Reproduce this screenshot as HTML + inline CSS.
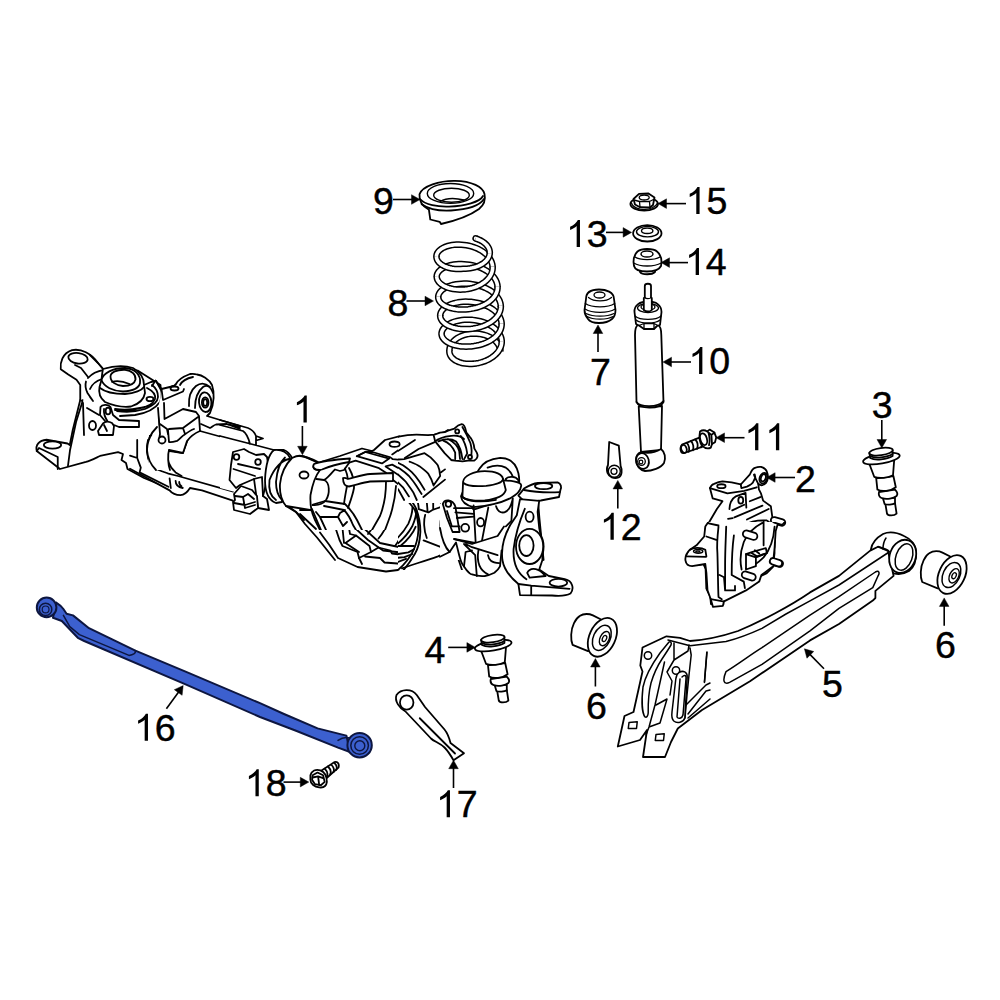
<!DOCTYPE html>
<html><head><meta charset="utf-8"><style>
html,body{margin:0;padding:0;background:#fff;width:1000px;height:1000px;overflow:hidden}
svg{position:absolute;left:0;top:0;display:block}
</style></head><body>
<svg width="1000" height="1000" viewBox="0 0 1000 1000">
<rect width="1000" height="1000" fill="#fff"/>
<g fill="#fff" stroke="#000" stroke-width="1.8" stroke-linejoin="round" stroke-linecap="round">
<g id="axA" transform="translate(30 340) scale(0.15)" stroke-width="1.8">
<path vector-effect="non-scaling-stroke" d="M205,195 C200,150 215,90 280,68 C340,55 410,90 450,150 L490,195 L560,185 L720,205 L870,300 C880,420 860,460 860,460 L870,620 L800,640 C780,700 790,830 850,900 L930,990 L760,920 L650,860 L640,820 L610,800 L620,760 L587,747 L467,773 C430,790 400,805 373,813 L200,860 L45,740 C35,700 60,670 110,665 L250,690 L265,700 L285,600 L310,500 L335,400 L335,300 L310,265 L255,230 Z"/>
<path vector-effect="non-scaling-stroke" fill="none" d="M45,740 L60,720 L185,780 L185,860 M253,840 L267,733 L307,547 L353,400 M335,400 L370,420"/>
<ellipse vector-effect="non-scaling-stroke" cx="150" cy="700" rx="58" ry="24"/>
<ellipse vector-effect="non-scaling-stroke" cx="320" cy="122" rx="65" ry="35" transform="rotate(8 320 122)"/>
<path vector-effect="non-scaling-stroke" fill="none" d="M800,640 C790,600 830,570 870,580 L880,650 M870,620 L920,600 L1000,590 M880,660 C900,640 920,640 930,680 M940,730 L1000,720 M880,330 L900,420 L1000,380 M900,420 L900,520 L1000,480"/>
<circle vector-effect="non-scaling-stroke" cx="880" cy="665" r="22"/>
<path vector-effect="non-scaling-stroke" fill="none" d="M820,275 L840,290 L860,320 M950,320 C960,310 990,310 1000,320"/>
</g>

<g id="axK" transform="translate(75 355) scale(0.1)">
<path stroke="none" d="M130,220 L200,170 L280,140 C380,110 500,105 580,130 C650,170 690,230 690,300 L760,270 L810,260 L860,350 L880,480 L900,640 L850,800 L90,800 L80,480 L110,260 Z"/>
<path vector-effect="non-scaling-stroke" fill="none" d="M150,0 L230,80 L280,140 M0,100 L60,130 L130,220"/>
<path vector-effect="non-scaling-stroke" fill="none" d="M130,230 C160,195 220,160 290,148 M110,265 C100,300 110,350 125,380 L180,460 L150,420 M150,340 C170,290 210,260 270,240"/>
<path vector-effect="non-scaling-stroke" fill="none" d="M690,300 L760,270 L810,258 L860,350 M770,300 C810,330 830,380 830,420 C825,470 790,500 700,540 C620,565 520,575 420,560 M720,330 C780,360 810,400 800,440 C780,490 720,520 650,530 C580,545 480,550 400,540 M400,550 L560,550 L700,520 M450,610 L600,600 C700,585 800,540 850,470 C870,420 870,380 860,350"/>
<ellipse vector-effect="non-scaling-stroke" cx="750" cy="440" rx="35" ry="22"/>
<path vector-effect="non-scaling-stroke" d="M280,140 C380,110 500,105 580,130 C650,170 690,230 690,300 L700,380 C690,440 640,490 560,515 C480,525 380,505 300,470 C250,430 235,370 245,320 L265,250 C270,200 275,160 280,140 Z"/>
<path vector-effect="non-scaling-stroke" d="M265,250 C280,180 380,130 500,130 C600,135 660,200 650,280 C640,330 570,360 480,365 C380,360 290,320 265,250 Z"/>
<path vector-effect="non-scaling-stroke" d="M355,215 C355,170 420,145 500,148 C570,152 610,200 605,245 C595,290 540,310 480,310 C410,305 355,270 355,215 Z"/>
<path vector-effect="non-scaling-stroke" fill="none" d="M370,268 C420,255 480,262 545,290 M250,330 C300,370 400,390 500,390 C600,385 670,350 690,320"/>
<path vector-effect="non-scaling-stroke" fill="none" d="M80,480 L90,800 M120,530 L240,600"/>
<ellipse vector-effect="non-scaling-stroke" cx="175" cy="705" rx="35" ry="45"/>
<path vector-effect="non-scaling-stroke" d="M255,520 C270,495 330,490 355,520 L380,600 L440,650 L640,660 L640,720 L440,720 L390,700 L300,660 L250,600 Z"/>
<ellipse vector-effect="non-scaling-stroke" cx="330" cy="560" rx="24" ry="34"/>
<path vector-effect="non-scaling-stroke" fill="none" d="M290,540 C285,580 295,620 330,670"/>
<path vector-effect="non-scaling-stroke" d="M230,760 L280,685 C300,665 340,665 370,680 L390,710 L380,800 L240,800 Z"/>
<path vector-effect="non-scaling-stroke" fill="none" d="M290,700 L320,760 M840,530 L850,800 M880,480 L900,640 L1000,580 M880,440 L1000,400"/>
<ellipse vector-effect="non-scaling-stroke" cx="990" cy="330" rx="30" ry="20"/>
</g>

<g id="axJ" transform="translate(130 440) scale(0.12)">
<path stroke="none" d="M60,0 L60,150 L90,230 L80,270 L330,420 L360,450 L420,460 L480,430 L500,400 L600,420 L870,510 L1000,400 L1000,0 Z"/>
<path vector-effect="non-scaling-stroke" fill="none" d="M0,240 L330,420 C350,445 380,460 420,460 C450,458 475,440 500,400 L600,420 L870,510"/>
<path vector-effect="non-scaling-stroke" fill="none" d="M0,130 L60,150 L90,230 L80,270 L320,390 M60,0 L60,150"/>
<path vector-effect="non-scaling-stroke" fill="none" d="M150,0 C135,60 140,140 170,200 C200,240 240,250 320,280 L400,300 L860,430"/>
<path vector-effect="non-scaling-stroke" fill="none" d="M320,90 C305,140 315,210 380,270 L430,300 M320,90 L440,110 L480,0"/>
<path vector-effect="non-scaling-stroke" fill="none" d="M330,320 L340,400 M380,340 C380,370 400,395 440,400 M410,350 C410,370 420,380 430,385"/>
</g>

<g id="axH" transform="translate(140 370) scale(0.1)">
<path stroke="none" d="M215,190 L340,160 L360,140 C380,100 420,70 500,40 L570,45 C620,50 690,90 720,150 C745,220 745,330 700,430 L670,460 L1000,560 L1000,740 L600,610 L540,630 L470,710 L430,830 L290,800 L280,1000 L110,1000 C60,900 70,700 170,570 L200,540 L180,380 L210,250 Z"/>
<path vector-effect="non-scaling-stroke" fill="none" d="M120,160 L155,105 L215,190 L340,160 L360,140 C380,100 420,70 500,40 C540,35 570,45 570,45 C620,50 690,90 720,150 C745,220 745,330 700,430 L670,460 L1000,560"/>
<path vector-effect="non-scaling-stroke" fill="none" d="M215,190 L230,300 L430,215 L440,190 M400,150 C420,110 460,85 530,70 M490,360 C485,280 510,200 560,160 C600,130 650,125 700,170 M550,380 C550,290 580,210 630,170 C660,150 700,150 730,230"/>
<ellipse vector-effect="non-scaling-stroke" cx="345" cy="185" rx="40" ry="20"/>
<ellipse vector-effect="non-scaling-stroke" cx="652" cy="322" rx="62" ry="98" transform="rotate(-5 652 322)"/>
<ellipse vector-effect="non-scaling-stroke" cx="652" cy="325" rx="33" ry="52"/>
<ellipse vector-effect="non-scaling-stroke" cx="652" cy="325" rx="20" ry="34"/>
<path vector-effect="non-scaling-stroke" fill="none" d="M610,540 L700,580 C720,570 740,550 760,545 L870,540 L1000,590 M880,545 L1000,570 M600,610 L1000,720"/>
<path vector-effect="non-scaling-stroke" fill="none" d="M240,330 L245,490 L430,390 L560,420 L590,460 L600,610 M290,590 L430,580 L580,470 M430,580 L450,640 M280,600 L290,720 C320,725 350,715 370,710 C400,690 420,660 440,650 C480,620 510,600 540,590"/>
<path vector-effect="non-scaling-stroke" fill="none" d="M180,380 L200,640 L190,700 M200,540 L270,590 L280,640"/>
<circle vector-effect="non-scaling-stroke" cx="220" cy="700" r="35"/>
<path vector-effect="non-scaling-stroke" fill="none" d="M170,570 C110,630 70,720 70,800 C75,880 110,950 160,1000 M290,800 C275,850 280,950 300,1000 M290,800 L430,830 L470,710 C500,670 530,640 600,610"/>
</g>

<g id="axI" transform="translate(220 420) scale(0.1)">
<path stroke="none" d="M0,160 L350,250 L540,300 L640,300 L700,340 L720,380 L820,360 L900,390 L1000,440 L1000,920 L900,900 L660,860 L600,810 L490,900 L380,880 L300,940 L140,900 L130,820 L150,720 L0,680 Z"/>
<path vector-effect="non-scaling-stroke" fill="none" d="M0,0 L280,80 C320,95 340,110 360,160 L360,250 M0,50 L230,110 C260,130 280,160 300,240 M360,160 L430,185 L360,205 M0,160 L350,250 L540,300 L640,300 C670,310 700,340 720,380"/>
<path vector-effect="non-scaling-stroke" d="M130,320 L240,290 L290,320 L360,350 L440,340 L470,370 L480,430 L470,600 L430,760 L470,790 L490,900 L380,880 L340,590 L200,650 L160,680 L95,600 L110,450 Z"/>
<circle vector-effect="non-scaling-stroke" cx="165" cy="370" r="28"/>
<circle vector-effect="non-scaling-stroke" cx="380" cy="420" r="28"/>
<path vector-effect="non-scaling-stroke" fill="none" d="M180,440 L400,490 M135,490 L350,560 M340,590 L420,570 L430,760"/>
<path vector-effect="non-scaling-stroke" d="M140,740 L210,660 L320,700 L370,760 L380,880 L300,940 L140,900 L130,820 L150,800 Z"/>
<path vector-effect="non-scaling-stroke" fill="none" d="M150,760 L230,770 L280,740 L340,790 M140,830 L250,850 L350,820 M250,880 L350,850 M230,770 L250,880"/>
<path vector-effect="non-scaling-stroke" d="M540,300 C480,350 455,480 450,600 C450,700 480,800 560,830 L620,820 L700,380 C680,330 620,290 540,300 Z"/>
<path vector-effect="non-scaling-stroke" fill="none" d="M690,390 C620,400 540,480 495,600 C485,680 500,760 560,800 M650,375 C600,420 570,500 560,620 C560,700 580,760 620,800"/>
<path vector-effect="non-scaling-stroke" d="M720,380 C760,360 800,355 820,360 C860,365 900,390 1000,440 L1000,920 L900,900 L660,860 C610,800 595,720 600,640 C610,540 650,450 720,380 Z"/>
<ellipse vector-effect="non-scaling-stroke" cx="840" cy="550" rx="45" ry="35"/>
<path vector-effect="non-scaling-stroke" fill="none" d="M1000,440 C960,440 930,455 935,475 C940,495 970,500 1000,500 M1000,560 C960,620 925,720 920,800 L930,900 M660,860 L760,920 L840,1000"/>
</g>

<clipPath id="clipL"><rect x="290" y="425" width="110" height="105"/></clipPath>
<g clip-path="url(#clipL)">
<g id="axL" transform="translate(300 430) scale(0.1)">
<path stroke="none" d="M140,340 L190,325 L400,260 L620,185 L720,210 L740,200 L850,100 L1000,60 L1000,1000 L200,1000 L150,900 L110,800 L105,650 L125,540 L160,450 L200,400 Z"/>
<path vector-effect="non-scaling-stroke" fill="none" d="M0,260 C60,262 110,285 190,325 L400,260 L620,185 L720,210 L740,200 L850,100 L1000,60"/>
<path vector-effect="non-scaling-stroke" d="M140,340 C180,325 300,300 500,285 L490,320 C400,335 300,360 220,395 L200,400 C140,400 120,370 140,340 Z"/>
<path vector-effect="non-scaling-stroke" fill="none" d="M200,400 C160,450 125,540 105,650 C100,730 110,820 150,900 L200,1000"/>
<path vector-effect="non-scaling-stroke" fill="none" d="M568,262 L652,220 L724,220 L904,274 L928,292 L1000,298 M484,328 L556,307 L790,382 L856,424 L940,508 L1000,556"/>
<path vector-effect="non-scaling-stroke" fill="none" d="M568,262 L652,220 L892,286 L820,334 Z M856,364 L922,346 L1000,390 L1000,460 Z"/>
<path vector-effect="non-scaling-stroke" fill="none" d="M165,490 L240,500 C290,470 320,420 350,395 L400,410 L440,400 L490,330 M240,500 C300,520 300,640 260,700 C230,740 180,755 125,750"/>
<path vector-effect="non-scaling-stroke" fill="none" d="M450,385 C480,460 490,520 470,560 C455,640 445,690 440,740 M490,380 C530,450 545,520 540,580 C525,660 500,720 480,780"/>
<path vector-effect="non-scaling-stroke" d="M430,480 C450,475 470,485 480,490 C560,470 640,445 700,440 L930,430 L930,510 L700,515 C630,525 560,550 490,565 C450,565 430,540 430,480 Z"/>
<path vector-effect="non-scaling-stroke" fill="none" d="M860,520 C860,640 840,760 800,860 L720,1000 M960,560 C950,700 920,820 880,920 L850,1000"/>
<path vector-effect="non-scaling-stroke" fill="none" d="M130,745 L250,710 L450,740 C500,790 540,840 570,900 L620,1000 M240,760 L440,800 C480,840 510,900 530,950 L560,1000 M0,800 L110,800 M0,840 L160,990 M120,790 L210,1000 M160,820 L200,870 L380,870 L400,830 L450,800 M200,870 L260,1000 M380,870 L430,960 L470,920"/>
<ellipse vector-effect="non-scaling-stroke" cx="946" cy="142" rx="51" ry="27"/>
<path vector-effect="non-scaling-stroke" fill="none" d="M922,244 L1000,190"/>
</g></g>

<clipPath id="clipM"><rect x="398" y="425" width="65" height="80"/></clipPath>
<g clip-path="url(#clipM)">
<g id="axM" transform="translate(380 430) scale(0.08)">
<path stroke="none" d="M0,190 L100,120 L250,70 L450,55 L600,65 L660,80 L720,50 L800,30 L850,0 L1000,0 L1000,1000 L0,1000 Z"/>
<path vector-effect="non-scaling-stroke" fill="none" d="M0,190 C40,150 100,120 250,80 C350,55 450,52 600,65 L680,58 C700,50 720,50 800,30 L850,0"/>
<ellipse vector-effect="non-scaling-stroke" cx="182" cy="177" rx="64" ry="34"/>
<path vector-effect="non-scaling-stroke" fill="none" d="M160,305 L437,125 M310,350 L482,237 L677,155 M685,125 L812,275 L900,380 L1000,380"/>
<path vector-effect="non-scaling-stroke" fill="none" d="M167,372 L302,365 L557,290 C590,310 610,325 632,342 C670,380 700,410 722,440 C740,480 750,530 752,575 L677,680 M370,395 C420,415 460,430 497,455 C540,490 580,520 602,545 C630,590 655,640 670,695"/>
<path vector-effect="non-scaling-stroke" fill="none" d="M62,320 L137,342 L167,372 M167,380 C210,400 250,420 287,440 C330,470 370,500 400,530 C440,570 470,610 497,650 L557,747 M77,462 L152,432 C190,450 220,465 250,485 C300,520 330,545 362,575 C400,620 430,660 452,695 L520,800 M92,477 C140,500 180,520 212,545 C260,590 300,620 325,650 C360,700 390,740 415,777 L460,875 M62,530 C110,560 150,585 175,605 C220,650 260,690 287,717 L362,830 M227,740 L302,875"/>
<path vector-effect="non-scaling-stroke" fill="none" d="M62,635 L190,635 M212,665 L182,875 M542,837 L812,620 M760,530 L812,492 M740,140 C820,150 880,180 930,290 L950,360 M800,110 C880,120 950,170 1000,230"/>
</g></g>

<clipPath id="clipN"><rect x="398" y="503" width="75" height="67"/></clipPath>
<g clip-path="url(#clipN)">
<g id="axN" transform="translate(390 490) scale(0.08)">
<path stroke="none" d="M0,0 L1000,0 L1000,1000 L0,1000 Z"/>
<path vector-effect="non-scaling-stroke" fill="none" d="M100,0 C160,70 260,170 310,250 C340,330 355,420 355,500 C350,600 320,700 290,760 C250,840 190,920 100,1000 M165,0 C230,80 300,170 330,240 C360,320 380,420 380,520 C375,640 340,750 310,800 C270,870 220,940 170,1000"/>
<path vector-effect="non-scaling-stroke" fill="none" d="M270,0 C310,40 350,100 360,240 L480,280 L530,250 L640,210 L630,110 L700,80 L760,40 L880,0 M460,150 L470,270 M540,130 L540,240 M460,150 L620,120"/>
<path vector-effect="non-scaling-stroke" fill="none" d="M75,0 C60,100 40,220 0,350 M0,680 C80,620 170,530 230,420 C260,350 280,280 280,220 M70,690 C150,630 230,540 280,450 C310,380 330,300 330,250 M130,700 C200,640 280,560 320,460"/>
<path vector-effect="non-scaling-stroke" fill="none" d="M0,700 L300,700 M0,760 L80,770 L100,800 L230,780 L300,740 M0,810 L50,820 L60,850 L180,840 L280,800 M0,920 L100,900 L200,860"/>
<path vector-effect="non-scaling-stroke" fill="none" d="M420,630 L760,760 L850,850 L900,1000 M150,980 C250,940 400,900 600,830 L760,760"/>
<path vector-effect="non-scaling-stroke" d="M660,110 C690,95 760,100 790,160 L800,300 L860,420 L870,540 L760,510 L650,290 L640,180 Z"/>
<ellipse vector-effect="non-scaling-stroke" cx="730" cy="180" rx="30" ry="40"/>
<path vector-effect="non-scaling-stroke" fill="none" d="M690,150 C680,200 690,260 760,420 L780,440 L860,440 M780,440 L790,500"/>
<path vector-effect="non-scaling-stroke" fill="none" d="M800,190 L1000,190 M810,240 L1000,250 M840,300 L1000,310 M440,310 C420,380 420,500 460,600 M640,350 C620,420 630,560 670,670 M700,420 C700,500 720,600 750,670 M800,620 L880,640 L1000,700 M820,630 L900,770 L840,860 M930,660 L1000,680 M900,0 L900,80 C920,110 960,130 1000,140"/>
<circle vector-effect="non-scaling-stroke" cx="950" cy="470" r="48"/>
</g></g>

<g id="axC" transform="translate(290 410) scale(0.15)">
<path vector-effect="non-scaling-stroke" fill="none" d="M300,1000 L260,950 L180,850 L100,760 L40,680 L0,650"/>
</g>

<g id="axP" transform="translate(440 420) scale(0.14)">
<path stroke="none" d="M20,580 L80,570 L160,550 L240,620 L400,600 L550,530 L580,460 L600,490 L700,450 L840,445 L860,500 L850,550 L720,575 L700,580 L710,700 L740,1000 L0,1000 L0,600 Z"/>
<path vector-effect="non-scaling-stroke" fill="none" d="M700,580 L710,700 L720,800 L740,1000"/>
<!-- C ring behind boss -->
<path vector-effect="non-scaling-stroke" d="M240,640 C200,600 230,420 280,350 C310,300 370,275 430,270 C490,270 540,300 560,380 C575,450 560,500 540,515 C500,550 420,590 330,612 Z"/>
<path vector-effect="non-scaling-stroke" fill="none" d="M340,340 C380,325 430,320 470,340 C510,370 530,420 530,460"/>
<path vector-effect="non-scaling-stroke" d="M470,420 C490,400 540,400 560,430 C565,450 550,465 520,470 L480,470 Z"/>
<!-- flange ring under boss -->
<path vector-effect="non-scaling-stroke" d="M150,545 C170,470 260,430 380,430 C500,430 585,440 580,470 C575,510 550,530 500,560 C440,590 330,620 240,622 C190,610 155,590 150,545 Z"/>
<!-- boss cylinder -->
<path vector-effect="non-scaling-stroke" d="M165,440 C170,400 240,365 320,365 C400,365 445,390 450,420 L470,500 C460,540 400,565 320,575 C250,580 180,570 160,550 Z"/>
<path vector-effect="non-scaling-stroke" fill="none" d="M168,450 C190,470 260,475 330,470 C400,462 445,445 450,425"/>
<path vector-effect="non-scaling-stroke" fill="none" d="M160,550 C200,585 300,590 400,570"/>
<!-- steering arm ear -->
<path vector-effect="non-scaling-stroke" d="M560,540 L600,490 C640,465 680,452 700,450 L840,445 C865,455 870,480 860,500 L850,550 L720,575 L610,590 Z"/>
<ellipse vector-effect="non-scaling-stroke" cx="740" cy="472" rx="62" ry="22"/>
<path vector-effect="non-scaling-stroke" fill="none" d="M600,500 C650,510 750,520 855,515"/>
<!-- knuckle arm -->

<ellipse vector-effect="non-scaling-stroke" cx="640" cy="690" rx="25" ry="35"/>
<ellipse vector-effect="non-scaling-stroke" cx="630" cy="905" rx="110" ry="140"/>
<ellipse vector-effect="non-scaling-stroke" cx="615" cy="905" rx="58" ry="80"/>
<!-- center block -->
<path vector-effect="non-scaling-stroke" fill="none" d="M240,610 L255,880 M345,625 L300,860 M400,615 C410,650 430,665 460,660 C490,650 510,610 520,560 M520,560 L510,720 L460,770 L450,1000 M100,850 L260,880 L500,850 M190,880 L260,1000 M500,850 L520,1000"/>
<ellipse vector-effect="non-scaling-stroke" cx="290" cy="730" rx="25" ry="30"/>
<circle vector-effect="non-scaling-stroke" cx="180" cy="770" r="28"/>
<!-- steering stop -->
<path vector-effect="non-scaling-stroke" d="M20,600 C30,565 90,560 110,620 L130,740 L140,800 L90,800 L50,700 Z"/>
<circle vector-effect="non-scaling-stroke" cx="60" cy="600" r="20"/>
<path vector-effect="non-scaling-stroke" fill="none" d="M50,650 L85,760 L140,760 M100,630 L240,630 M110,660 L240,670 M120,700 L240,690"/>
</g>

<clipPath id="clipE"><path d="M300,530 L398,530 L398,570 L480,570 L480,640 L300,640 Z"/></clipPath>
<g clip-path="url(#clipE)">
<g id="axE" transform="translate(320 480) scale(0.15)">
<path stroke="none" d="M0,170 L0,350 L60,430 L120,520 L250,580 L440,610 L520,600 L560,578 L650,570 L760,540 L860,480 L920,560 L1000,620 L1000,300 L700,100 L600,0 L0,0 Z"/>
<path vector-effect="non-scaling-stroke" fill="none" d="M0,350 L60,430 L120,520 L250,580 L440,610 L520,600 L590,560 C650,490 680,380 660,260 C640,160 590,80 520,20"/>
<path vector-effect="non-scaling-stroke" fill="none" d="M560,578 L650,570 C720,560 800,530 860,480 M690,400 L860,480"/>
<path vector-effect="non-scaling-stroke" fill="none" d="M500,40 C580,120 630,240 640,340 C645,430 610,510 560,560 M480,60 C560,150 600,250 610,340 C615,420 590,490 540,540"/>
<path vector-effect="non-scaling-stroke" fill="none" d="M440,0 C440,120 400,260 320,360 M500,60 C490,200 450,320 390,390 M580,160 C580,290 540,390 500,440 M620,280 C610,370 580,430 540,460"/>
<path vector-effect="non-scaling-stroke" fill="none" d="M0,170 L50,150 L160,160 L180,200 L290,320 L400,420 L540,450 L640,440 M0,200 L140,225 L200,290 L320,400 L420,470 L600,490 M0,240 L90,240 L130,230 L150,290 L190,300 L200,360 L240,370 L330,440 L340,480 L260,520 L250,480 L150,440 L130,400 L100,310 L60,290 L0,280"/>
<path vector-effect="non-scaling-stroke" fill="none" d="M130,230 L90,250 L100,310 M150,290 L110,300 M190,300 L150,320 L160,420 M240,370 L170,420 L260,480 M340,480 L390,450 L470,470 L480,490 L560,500 L610,480 M300,510 L400,520 L430,550 L560,560 M260,520 L280,560"/>
<path vector-effect="non-scaling-stroke" fill="none" d="M170,30 L210,40 L180,160 M200,50 L240,60 L200,170 M0,20 C20,80 20,130 0,160"/>
<path vector-effect="non-scaling-stroke" fill="none" d="M700,100 L760,90 L800,150 L720,210 L700,100 M720,210 L860,180 L1000,170 M900,200 L1000,200 M730,260 C700,300 700,380 720,400"/>
<path vector-effect="non-scaling-stroke" d="M830,140 C840,110 890,110 895,150 L900,200 L920,330 L880,340 L860,280 Z"/>
<ellipse vector-effect="non-scaling-stroke" cx="857" cy="165" rx="16" ry="22"/>
<circle vector-effect="non-scaling-stroke" cx="975" cy="320" r="25"/>
<path vector-effect="non-scaling-stroke" fill="none" d="M900,400 L960,420 L1000,440 M870,500 L900,540 L940,560 L1000,620 M820,260 C790,320 800,420 860,470"/>
</g>

</g>
<g id="axF" transform="translate(440 480) scale(0.16)">
<path stroke="none" d="M60,450 L100,390 L200,400 L360,350 L400,290 L420,300 L385,440 L375,540 L340,580 L280,600 L200,590 L150,540 L120,470 Z"/>
<path vector-effect="non-scaling-stroke" fill="none" d="M0,480 L60,450 L100,390 L120,470 C130,510 140,530 150,540 C170,570 190,590 200,590 C230,600 260,602 280,600 C310,595 330,585 340,580 C360,565 370,550 375,540 L385,440"/>
<path vector-effect="non-scaling-stroke" fill="none" d="M90,370 L200,400 L360,350 L400,290 M160,400 L200,420 L360,470 M150,400 L220,470 L230,600 M150,540 L160,450 L200,440 M240,440 C230,500 240,560 300,590 M300,470 C305,500 320,515 370,520 M0,300 C10,360 30,420 60,450"/>
<path vector-effect="non-scaling-stroke" d="M500,120 L620,130 L610,200 L620,300 L640,400 L640,500 L620,560 L680,600 L780,620 C830,630 840,680 815,710 C790,725 740,725 700,722 L500,720 L490,650 C440,610 400,560 390,500 C380,420 400,350 440,280 L480,220 Z"/>
<path vector-effect="non-scaling-stroke" fill="none" d="M530,180 C500,250 470,350 460,430 C455,520 480,580 540,620 M490,650 L570,660 L810,680 M570,660 L570,720 M545,580 C560,550 600,545 640,580 L660,600 L560,610 Z"/>
<ellipse vector-effect="non-scaling-stroke" cx="560" cy="415" rx="85" ry="110"/>
<ellipse vector-effect="non-scaling-stroke" cx="540" cy="410" rx="45" ry="65"/>
<ellipse vector-effect="non-scaling-stroke" cx="560" cy="230" rx="25" ry="32"/>
<ellipse vector-effect="non-scaling-stroke" cx="740" cy="642" rx="55" ry="24"/>
</g>

<g id="axG" transform="translate(400 415) scale(0.08)">
<path vector-effect="non-scaling-stroke" d="M420,250 L500,220 L560,215 L600,195 L680,170 C700,150 720,125 770,115 C800,115 815,140 830,220 L870,270 C900,300 920,330 930,420 L960,470 C975,500 975,540 930,570 L850,570 L780,580 L700,570 L640,560 L560,480 L440,330 Z"/>
<path vector-effect="non-scaling-stroke" fill="none" d="M780,150 C810,200 840,250 880,350 C900,420 905,480 880,545 M760,262 C800,320 830,400 840,480 L800,555"/>
<path vector-effect="non-scaling-stroke" fill="none" d="M480,330 C560,295 640,290 700,330 C740,380 770,460 780,550 M540,320 C600,340 660,400 690,470 L690,550 M600,300 C660,330 720,380 740,450 L750,550 M440,330 C470,300 550,270 640,260 C720,250 780,280 800,300"/>
<circle vector-effect="non-scaling-stroke" cx="715" cy="205" r="25"/>
<circle vector-effect="non-scaling-stroke" cx="875" cy="525" r="25"/>
</g>

<g id="p2" transform="translate(680 460) scale(0.155)">
<path vector-effect="non-scaling-stroke" d="M193,181 C200,165 215,155 220,154 C240,145 255,140 274,138 L333,145 L392,158 L450,95 C460,70 475,52 486,50 C500,44 512,43 523,45 C540,50 555,60 559,72 C566,88 568,100 568,113 C566,130 560,142 554,149 C545,158 535,162 523,163 L505,154 L509,190 L523,217 L536,262 L586,298 L600,400 L610,600 L600,690 L560,730 L500,760 L460,810 L360,850 L280,900 L270,940 L200,930 L195,880 L170,830 L165,700 L150,670 C120,680 60,680 45,650 C35,620 55,585 100,565 L150,560 L160,530 L165,440 L238,316 L274,266 L211,248 Z"/>
<path vector-effect="non-scaling-stroke" fill="none" d="M193,181 L306,215 L414,199 L495,176 M392,158 L396,181 L432,172 C455,160 470,150 473,140 L486,113 L482,93 M477,95 C482,110 488,120 491,126 L505,154"/>
<ellipse vector-effect="non-scaling-stroke" cx="267" cy="169" rx="27" ry="12.6"/>
<ellipse vector-effect="non-scaling-stroke" cx="538" cy="117" rx="24" ry="35" transform="rotate(20 538 117)"/>
<ellipse vector-effect="non-scaling-stroke" cx="538" cy="115" rx="15" ry="24" transform="rotate(20 538 115)"/>
<ellipse vector-effect="non-scaling-stroke" cx="392" cy="260" rx="16" ry="22"/>
<ellipse vector-effect="non-scaling-stroke" cx="115" cy="590" rx="40" ry="16"/>
<path vector-effect="non-scaling-stroke" fill="none" d="M45,640 C70,660 130,660 160,640 L165,600 M160,640 L165,700"/>
<path vector-effect="non-scaling-stroke" fill="none" d="M423,212 L428,307 M337,325 L414,289 M450,266 L518,239 M351,370 L532,294 M432,384 L572,316 M319,316 C320,290 328,271 328,271 C340,250 350,240 360,235 L423,212"/>
<path vector-effect="non-scaling-stroke" fill="none" d="M310,380 L340,375 M260,470 C245,560 250,700 300,840 M320,420 C300,520 310,680 350,760 L400,770 L450,780 M200,420 L240,430 M170,490 L230,510 M280,760 L300,840 L350,830"/>
<path vector-effect="non-scaling-stroke" fill="none" d="M400,440 C430,400 500,385 560,390 C600,410 615,480 610,560 C600,640 560,700 480,730 L410,730 M440,470 C400,520 390,620 410,700 M540,400 L545,580"/>
<path vector-effect="non-scaling-stroke" d="M430,610 L500,600 L550,580 L560,620 L490,650 L480,690 L430,700 Z"/>
<path vector-effect="non-scaling-stroke" fill="none" d="M430,610 L470,620 L490,650 M470,620 L540,595"/>
<rect vector-effect="non-scaling-stroke" x="405" y="462" width="95" height="45" rx="22" transform="rotate(15 452 485)"/>
<rect vector-effect="non-scaling-stroke" x="585" y="375" width="95" height="42" rx="21" transform="rotate(15 632 396)"/>
<rect vector-effect="non-scaling-stroke" x="590" y="645" width="75" height="40" rx="20" transform="rotate(15 627 665)"/>
<rect vector-effect="non-scaling-stroke" x="405" y="735" width="95" height="42" rx="21" transform="rotate(15 452 756)"/>
<path vector-effect="non-scaling-stroke" fill="none" d="M195,880 L270,890 L280,930"/>
</g>

<clipPath id="clipB2"><rect x="670" y="522" width="130" height="100"/></clipPath>
<g clip-path="url(#clipB2)">
<g id="p2low" transform="translate(680 520) scale(0.11)">
<path stroke="none" d="M270,0 L230,60 L220,150 L150,230 L90,270 L50,350 L60,400 L110,420 L230,400 L240,480 L250,640 L280,720 L300,790 L390,780 L400,740 L600,640 L720,560 L740,500 L860,410 L880,360 L850,350 L860,250 L870,100 L900,0 Z"/>
<path vector-effect="non-scaling-stroke" fill="none" d="M270,0 L230,60 L220,150 L150,230 L90,270 C60,300 45,340 50,370 C55,400 80,420 110,420 L230,400 L240,480 L250,640 L280,720 L300,790 L390,780 L400,740 L600,640 L720,560 L740,500 L860,410"/>
<path vector-effect="non-scaling-stroke" fill="none" d="M90,270 C120,250 190,245 230,270 L240,330 M60,330 L235,335 M280,720 L390,740 L400,740 M860,410 L850,350 L860,250 L870,100 L900,0"/>
<ellipse vector-effect="non-scaling-stroke" cx="165" cy="285" rx="42" ry="17" stroke-width="1.5"/>
<ellipse vector-effect="non-scaling-stroke" cx="162" cy="287" rx="20" ry="6" stroke-width="1.1"/>
<path vector-effect="non-scaling-stroke" fill="none" d="M260,30 L350,50 M240,150 L330,180 M350,60 C340,150 335,250 340,300 C345,450 345,600 350,700 L380,720 M420,60 C415,200 410,300 410,400 L410,640 L500,640 L500,600 M490,140 C475,250 470,400 470,500 L580,560 L590,620 M360,500 L400,520 L410,640"/>
<path vector-effect="non-scaling-stroke" fill="none" d="M560,450 C545,380 550,280 580,200 C610,130 660,70 760,20 M600,440 C650,430 700,400 760,340 C810,280 850,200 860,60 M760,20 L760,230"/>
<path vector-effect="non-scaling-stroke" d="M600,310 L660,290 L780,255 L790,300 L690,340 L690,420 L600,450 Z"/>
<path vector-effect="non-scaling-stroke" fill="none" d="M600,310 L690,340 M650,300 L700,330 L790,300 M680,275 L720,305"/>
<rect vector-effect="non-scaling-stroke" x="570" y="105" width="135" height="65" rx="32" transform="rotate(18 637 137)"/>
<rect vector-effect="non-scaling-stroke" x="560" y="478" width="130" height="62" rx="31" transform="rotate(18 625 509)"/>
<rect vector-effect="non-scaling-stroke" x="815" y="355" width="115" height="58" rx="29" transform="rotate(18 872 384)"/>
<rect vector-effect="non-scaling-stroke" x="835" y="-25" width="115" height="58" rx="29" transform="rotate(18 892 4)"/>
</g></g>

<g id="p3" transform="translate(855 440) scale(0.08)">
<path vector-effect="non-scaling-stroke" d="M380,800 L400,920 C410,950 490,950 520,920 L500,790 Z"/>
<path vector-effect="non-scaling-stroke" d="M350,730 L370,800 C400,815 470,810 500,790 L500,720 Z"/>
<path vector-effect="non-scaling-stroke" d="M300,650 C290,690 300,715 340,728 C400,745 480,730 520,700 C535,680 530,650 500,620 Z"/>
<path vector-effect="non-scaling-stroke" d="M265,480 L280,620 C330,650 450,640 510,590 L480,450 Z"/>
<path vector-effect="non-scaling-stroke" d="M180,300 L240,460 C300,485 420,475 475,440 L490,250 Z"/>
<ellipse vector-effect="non-scaling-stroke" cx="330" cy="232" rx="232" ry="62" transform="rotate(-10 330 232)"/>
<path vector-effect="non-scaling-stroke" d="M180,160 L190,225 C250,260 400,245 470,200 L470,130 Z"/>
<ellipse vector-effect="non-scaling-stroke" cx="325" cy="145" rx="148" ry="45" transform="rotate(-8 325 145)"/>
<path vector-effect="non-scaling-stroke" fill="none" d="M185,200 C250,235 400,220 470,175"/>
</g>
<use href="#p3" transform="translate(-388.2 187)"/>

<g id="p5">
<!-- eye back -->
<path d="M870.9,549.3 C872,543 876,538 883,534 C890,531 898,533 904,536 C911,539 916,545 916,552 C916.5,560 914,567 909,571 C904,574 898,574.5 893.6,573.3 Z"/>
<!-- arm body -->
<path d="M642.5,647.5 L666.5,636.3 L680,637.8 L690,641 C705,640 720,637 738,631 C760,622 790,606 810,592.4 L839,575.9 L870.2,550.6 L878,546.7 L888,551 L893.6,575.9 L875.4,590.9 L875.4,598 L872.8,600.6 L839,624 L810,640.4 L750,681.2 L702,710 L677.8,728.5 L671,742 L665,757 L643,757 L647,730 L640,740 L617.8,746.5 L624.5,716 L633.5,712 L642.5,671.5 L640.3,665.5 Z"/>
<!-- eye front face -->
<ellipse cx="902.7" cy="556.4" rx="13" ry="17" transform="rotate(20 902.7 556.4)"/>
<ellipse cx="904" cy="557" rx="8.1" ry="13.7" transform="rotate(20 904 557)" stroke-width="1.5"/>
<path fill="none" stroke-width="1.5" d="M878,546.7 C883,548 888,549 889.5,552 M886,538 C884,541 883,545 883,549"/>
<!-- top inner line -->
<path fill="none" stroke-width="1.5" d="M668,640 L690,645.8 L726,641.6 C740,638 752,633 762,628.4 L786,614 L810,600.8 L839,585 L888.4,552.5"/>
<!-- long slot -->
<path fill="none" stroke-width="1.5" d="M726,671.6 C740,663 750,655 762,647.6 L810,615.2 L839,596.7 L875.4,572 C879,570 880,573 878,576 L872.8,587.6 L839,608.4 L810,630.8 L762,664.4 L729.6,682.4 C724,685 722,681 726,671.6 Z"/>
<!-- left bracket details -->
<g transform="translate(630 635) scale(0.1)">
<circle vector-effect="non-scaling-stroke" cx="180" cy="205" r="37" stroke-width="1.5"/>
<path vector-effect="non-scaling-stroke" stroke-width="1.5" d="M150,820 C120,780 115,650 130,520 C150,420 200,320 300,180 L390,70 C405,60 420,80 410,100 C380,150 340,210 320,240 C280,300 240,380 210,480 C190,560 180,650 182,780 C180,810 165,830 150,820 Z"/>
<path vector-effect="non-scaling-stroke" fill="none" stroke-width="1.5" d="M345,270 L290,520 L250,700 L190,920 L160,1000 M260,700 L370,640 L300,880 L190,920"/>
<path vector-effect="non-scaling-stroke" fill="none" stroke-width="1.5" d="M440,80 L440,250 L580,160 L590,100 M440,250 L370,370 L420,460 L400,600 M600,130 L612,200 L590,400 L570,600 L550,830"/>
<circle vector-effect="non-scaling-stroke" cx="460" cy="355" r="37" stroke-width="1.5"/>
<path vector-effect="non-scaling-stroke" stroke-width="1.5" d="M490,375 C530,350 575,370 572,420 L548,830 C535,875 470,890 438,860 C418,840 416,800 420,770 L458,440 C462,405 475,385 490,375 Z"/>
<path vector-effect="non-scaling-stroke" fill="none" stroke-width="1.5" d="M520,420 C545,395 565,400 560,440 L530,800 C520,840 480,840 470,820 L500,440"/>
<path vector-effect="non-scaling-stroke" fill="none" stroke-width="1.5" d="M560,700 L760,500 L800,480 M580,790 L760,560 L800,550 M580,830 L800,640 M770,170 L745,470"/>
</g>
<g transform="translate(605 625) scale(0.15)">
<path vector-effect="non-scaling-stroke" fill="none" stroke-width="1.5" d="M160,650 L215,645 L210,690 L155,690 Z M340,730 L395,725 L390,770 L335,770 Z"/>
</g>
<path fill="none" stroke-width="1.5" d="M706.8,652.4 L704.4,682.4"/>
</g>

<g id="p6a">
<path d="M588,651.1 L572.6,644.8 C570.5,640 570.5,630 574,623.1 C576,619 578,617 579.6,616.1 C582,614.5 584,614 586.6,614 C589,614 591,614.5 592.9,615.4 L600.6,619.25 L605,630 L600,650 Z"/>
<ellipse cx="602.4" cy="637.3" rx="13" ry="20.5" transform="rotate(25 602.4 637.3)"/>
<ellipse cx="601.8" cy="637.8" rx="8.4" ry="13.3" transform="rotate(25 601.8 637.8)" stroke-width="1.5"/>
<ellipse cx="604.5" cy="638.6" rx="4.5" ry="7.6" transform="rotate(25 604.5 638.6)" stroke-width="1.4"/>
<ellipse cx="604.5" cy="638.5" rx="2" ry="3.2" transform="rotate(25 604.5 638.5)" stroke-width="1.3"/>
</g>
<use href="#p6a" transform="translate(349.6 -62.8)"/>

<g id="p8" fill="none" stroke-linecap="butt">

<path d="M436.41,256.87 L436.46,255.66 L436.71,254.48 L437.18,253.32 L437.86,252.19 L438.74,251.09 L439.81,250.06 L441.07,249.08 L442.52,248.18 L444.13,247.36 L445.90,246.63 L447.81,246.01 L449.85,245.49 L452.01,245.09 L454.26,244.80 L456.60,244.64 L458.99,244.61 L461.43,244.71 L463.90,244.95 L466.37,245.29 L468.83,245.77 L471.26,246.37 L473.64,247.11 L475.94,247.97 L478.16,248.96 L480.28,250.06 L482.27,251.28 L484.13,252.59 L485.83,254.00 L487.37,255.50 L488.73,257.07 L489.90,258.71 L490.88,260.41 L491.65,262.15 L492.20,263.93 L492.54,265.73 L492.66,267.53" stroke="#000" stroke-width="6.6"/><path d="M436.41,256.87 L436.46,255.66 L436.71,254.48 L437.18,253.32 L437.86,252.19 L438.74,251.09 L439.81,250.06 L441.07,249.08 L442.52,248.18 L444.13,247.36 L445.90,246.63 L447.81,246.01 L449.85,245.49 L452.01,245.09 L454.26,244.80 L456.60,244.64 L458.99,244.61 L461.43,244.71 L463.90,244.95 L466.37,245.29 L468.83,245.77 L471.26,246.37 L473.64,247.11 L475.94,247.97 L478.16,248.96 L480.28,250.06 L482.27,251.28 L484.13,252.59 L485.83,254.00 L487.37,255.50 L488.73,257.07 L489.90,258.71 L490.88,260.41 L491.65,262.15 L492.20,263.93 L492.54,265.73 L492.66,267.53" stroke="#fff" stroke-width="3.6"/>
<path d="M436.71,276.88 L436.77,275.63 L437.07,274.39 L437.60,273.18 L438.35,272.00 L439.32,270.86 L440.51,269.78 L441.90,268.76 L443.48,267.82 L445.25,266.97 L447.18,266.21 L449.27,265.56 L451.50,265.02 L453.85,264.60 L456.30,264.30 L458.83,264.13 L461.43,264.10 L464.08,264.20 L466.75,264.44 L469.42,264.77 L472.08,265.24 L474.70,265.85 L477.26,266.59 L479.74,267.46 L482.13,268.46 L484.40,269.57 L486.54,270.80 L488.52,272.14 L490.35,273.57 L491.99,275.09 L493.43,276.68 L494.68,278.35 L495.71,280.07 L496.52,281.84 L497.10,283.64 L497.45,285.46 L497.56,287.29" stroke="#000" stroke-width="6.6"/><path d="M436.71,276.88 L436.77,275.63 L437.07,274.39 L437.60,273.18 L438.35,272.00 L439.32,270.86 L440.51,269.78 L441.90,268.76 L443.48,267.82 L445.25,266.97 L447.18,266.21 L449.27,265.56 L451.50,265.02 L453.85,264.60 L456.30,264.30 L458.83,264.13 L461.43,264.10 L464.08,264.20 L466.75,264.44 L469.42,264.77 L472.08,265.24 L474.70,265.85 L477.26,266.59 L479.74,267.46 L482.13,268.46 L484.40,269.57 L486.54,270.80 L488.52,272.14 L490.35,273.57 L491.99,275.09 L493.43,276.68 L494.68,278.35 L495.71,280.07 L496.52,281.84 L497.10,283.64 L497.45,285.46 L497.56,287.29" stroke="#fff" stroke-width="3.6"/>
<path d="M438.20,297.37 L438.28,296.08 L438.60,294.77 L439.16,293.49 L439.95,292.24 L440.98,291.04 L442.22,289.89 L443.68,288.81 L445.34,287.80 L447.18,286.89 L449.20,286.07 L451.38,285.36 L453.70,284.76 L456.14,284.28 L458.68,283.92 L461.31,283.70 L464.01,283.61 L466.74,283.66 L469.50,283.85 L472.26,284.18 L474.99,284.65 L477.69,285.26 L480.32,286.01 L482.86,286.88 L485.30,287.88 L487.62,289.01 L489.80,290.24 L491.82,291.59 L493.66,293.03 L495.32,294.56 L496.78,296.17 L498.02,297.85 L499.05,299.59 L499.84,301.37 L500.40,303.19 L500.72,305.03 L500.80,306.88" stroke="#000" stroke-width="6.6"/><path d="M438.20,297.37 L438.28,296.08 L438.60,294.77 L439.16,293.49 L439.95,292.24 L440.98,291.04 L442.22,289.89 L443.68,288.81 L445.34,287.80 L447.18,286.89 L449.20,286.07 L451.38,285.36 L453.70,284.76 L456.14,284.28 L458.68,283.92 L461.31,283.70 L464.01,283.61 L466.74,283.66 L469.50,283.85 L472.26,284.18 L474.99,284.65 L477.69,285.26 L480.32,286.01 L482.86,286.88 L485.30,287.88 L487.62,289.01 L489.80,290.24 L491.82,291.59 L493.66,293.03 L495.32,294.56 L496.78,296.17 L498.02,297.85 L499.05,299.59 L499.84,301.37 L500.40,303.19 L500.72,305.03 L500.80,306.88" stroke="#fff" stroke-width="3.6"/>
<path d="M440.20,315.90 L440.27,314.55 L440.58,313.21 L441.13,311.89 L441.91,310.60 L442.93,309.36 L444.16,308.18 L445.60,307.06 L447.24,306.03 L449.07,305.09 L451.07,304.24 L453.22,303.50 L455.52,302.88 L457.93,302.38 L460.45,302.01 L463.05,301.77 L465.71,301.67 L468.41,301.70 L471.12,301.88 L473.84,302.20 L476.54,302.66 L479.19,303.26 L481.77,303.99 L484.27,304.85 L486.66,305.85 L488.93,306.96 L491.06,308.19 L493.03,309.53 L494.83,310.96 L496.44,312.48 L497.85,314.08 L499.06,315.75 L500.04,317.48 L500.79,319.25 L501.31,321.05 L501.59,322.87 L501.64,324.71" stroke="#000" stroke-width="6.6"/><path d="M440.20,315.90 L440.27,314.55 L440.58,313.21 L441.13,311.89 L441.91,310.60 L442.93,309.36 L444.16,308.18 L445.60,307.06 L447.24,306.03 L449.07,305.09 L451.07,304.24 L453.22,303.50 L455.52,302.88 L457.93,302.38 L460.45,302.01 L463.05,301.77 L465.71,301.67 L468.41,301.70 L471.12,301.88 L473.84,302.20 L476.54,302.66 L479.19,303.26 L481.77,303.99 L484.27,304.85 L486.66,305.85 L488.93,306.96 L491.06,308.19 L493.03,309.53 L494.83,310.96 L496.44,312.48 L497.85,314.08 L499.06,315.75 L500.04,317.48 L500.79,319.25 L501.31,321.05 L501.59,322.87 L501.64,324.71" stroke="#fff" stroke-width="3.6"/>
<path d="M441.50,333.88 L441.62,332.55 L442.00,331.22 L442.60,329.91 L443.44,328.63 L444.49,327.39 L445.75,326.22 L447.22,325.11 L448.87,324.08 L450.71,323.14 L452.70,322.30 L454.84,321.56 L457.10,320.94 L459.48,320.44 L461.95,320.06 L464.50,319.82 L467.10,319.71 L469.73,319.74 L472.38,319.91 L475.01,320.21 L477.62,320.66 L480.18,321.25 L482.68,321.96 L485.09,322.81 L487.39,323.79 L489.57,324.89 L491.61,326.09 L493.50,327.41 L495.22,328.82 L496.76,330.32 L498.11,331.90 L499.25,333.54 L500.19,335.24 L500.91,336.98 L501.41,338.76 L501.69,340.56 L501.73,342.37" stroke="#000" stroke-width="6.6"/><path d="M441.50,333.88 L441.62,332.55 L442.00,331.22 L442.60,329.91 L443.44,328.63 L444.49,327.39 L445.75,326.22 L447.22,325.11 L448.87,324.08 L450.71,323.14 L452.70,322.30 L454.84,321.56 L457.10,320.94 L459.48,320.44 L461.95,320.06 L464.50,319.82 L467.10,319.71 L469.73,319.74 L472.38,319.91 L475.01,320.21 L477.62,320.66 L480.18,321.25 L482.68,321.96 L485.09,322.81 L487.39,323.79 L489.57,324.89 L491.61,326.09 L493.50,327.41 L495.22,328.82 L496.76,330.32 L498.11,331.90 L499.25,333.54 L500.19,335.24 L500.91,336.98 L501.41,338.76 L501.69,340.56 L501.73,342.37" stroke="#fff" stroke-width="3.6"/>
<path d="M477.24,238.99 L475.64,238.43" stroke="#000" stroke-width="6.6" stroke-linecap="round"/><path d="M477.24,238.99 L475.64,238.43" stroke="#fff" stroke-width="3.6" stroke-linecap="round"/>
<path d="M449.37,350.89 L449.45,349.44 L449.69,347.93 L450.13,346.44 L450.76,344.99 L451.58,343.58 L452.58,342.23 L453.75,340.94 L455.09,339.73 L456.57,338.61 L458.21,337.57 L459.97,336.65 L461.84,335.83 L463.82,335.13 L465.88,334.55 L468.02,334.10 L470.20,333.78 L472.42,333.59 L474.67,333.54 L476.91,333.63 L479.14,333.85 L481.33,334.20 L483.48,334.69 L485.56,335.30 L487.55,336.04 L489.45,336.89 L491.24,337.86 L492.90,338.93 L494.42,340.10 L495.79,341.35 L497.00,342.69 L498.03,344.09 L498.89,345.55 L499.57,347.05 L500.05,348.59 L500.34,350.15 L500.44,351.73" stroke="#000" stroke-width="6.6"/><path d="M449.37,350.89 L449.45,349.44 L449.69,347.93 L450.13,346.44 L450.76,344.99 L451.58,343.58 L452.58,342.23 L453.75,340.94 L455.09,339.73 L456.57,338.61 L458.21,337.57 L459.97,336.65 L461.84,335.83 L463.82,335.13 L465.88,334.55 L468.02,334.10 L470.20,333.78 L472.42,333.59 L474.67,333.54 L476.91,333.63 L479.14,333.85 L481.33,334.20 L483.48,334.69 L485.56,335.30 L487.55,336.04 L489.45,336.89 L491.24,337.86 L492.90,338.93 L494.42,340.10 L495.79,341.35 L497.00,342.69 L498.03,344.09 L498.89,345.55 L499.57,347.05 L500.05,348.59 L500.34,350.15 L500.44,351.73" stroke="#fff" stroke-width="3.6"/>
<path d="M501.74,341.30 L501.67,343.11 L501.37,344.90 L500.85,346.68 L500.12,348.42 L499.18,350.12 L498.05,351.76 L496.73,353.33 L495.24,354.82 L493.58,356.23 L491.78,357.53 L489.85,358.73 L487.81,359.82 L485.66,360.79 L483.44,361.63 L481.16,362.34 L478.83,362.92 L476.48,363.36 L474.12,363.66 L471.78,363.85 L469.48,363.89 L467.22,363.80 L465.04,363.57 L462.94,363.21 L460.94,362.73 L459.06,362.13 L457.32,361.42 L455.72,360.60 L454.28,359.68 L453.01,358.68 L451.92,357.60 L451.01,356.45 L450.30,355.25 L449.78,354.00 L449.47,352.72 L449.36,351.42 L449.41,350.05" stroke="#000" stroke-width="6.6"/><path d="M501.74,341.30 L501.67,343.11 L501.37,344.90 L500.85,346.68 L500.12,348.42 L499.18,350.12 L498.05,351.76 L496.73,353.33 L495.24,354.82 L493.58,356.23 L491.78,357.53 L489.85,358.73 L487.81,359.82 L485.66,360.79 L483.44,361.63 L481.16,362.34 L478.83,362.92 L476.48,363.36 L474.12,363.66 L471.78,363.85 L469.48,363.89 L467.22,363.80 L465.04,363.57 L462.94,363.21 L460.94,362.73 L459.06,362.13 L457.32,361.42 L455.72,360.60 L454.28,359.68 L453.01,358.68 L451.92,357.60 L451.01,356.45 L450.30,355.25 L449.78,354.00 L449.47,352.72 L449.36,351.42 L449.41,350.05" stroke="#fff" stroke-width="3.6"/>
<path d="M501.64,323.63 L501.59,325.46 L501.30,327.28 L500.77,329.08 L500.01,330.85 L499.02,332.57 L497.82,334.24 L496.41,335.83 L494.81,337.35 L493.02,338.77 L491.06,340.10 L488.94,341.32 L486.69,342.43 L484.33,343.42 L481.86,344.27 L479.31,345.00 L476.70,345.59 L474.04,346.04 L471.38,346.36 L468.71,346.57 L466.06,346.64 L463.46,346.57 L460.93,346.36 L458.47,346.03 L456.12,345.57 L453.90,344.98 L451.81,344.29 L449.88,343.48 L448.12,342.58 L446.54,341.60 L445.16,340.53 L443.99,339.40 L443.04,338.21 L442.31,336.97 L441.81,335.70 L441.55,334.41 L441.54,333.10" stroke="#000" stroke-width="6.6"/><path d="M501.64,323.63 L501.59,325.46 L501.30,327.28 L500.77,329.08 L500.01,330.85 L499.02,332.57 L497.82,334.24 L496.41,335.83 L494.81,337.35 L493.02,338.77 L491.06,340.10 L488.94,341.32 L486.69,342.43 L484.33,343.42 L481.86,344.27 L479.31,345.00 L476.70,345.59 L474.04,346.04 L471.38,346.36 L468.71,346.57 L466.06,346.64 L463.46,346.57 L460.93,346.36 L458.47,346.03 L456.12,345.57 L453.90,344.98 L451.81,344.29 L449.88,343.48 L448.12,342.58 L446.54,341.60 L445.16,340.53 L443.99,339.40 L443.04,338.21 L442.31,336.97 L441.81,335.70 L441.55,334.41 L441.54,333.10" stroke="#fff" stroke-width="3.6"/>
<path d="M500.78,305.79 L500.76,307.64 L500.50,309.48 L499.99,311.30 L499.26,313.08 L498.29,314.83 L497.10,316.51 L495.70,318.13 L494.10,319.67 L492.31,321.12 L490.35,322.48 L488.22,323.72 L485.96,324.86 L483.58,325.87 L481.09,326.75 L478.52,327.50 L475.88,328.12 L473.20,328.60 L470.50,328.94 L467.80,329.12 L465.12,329.17 L462.48,329.08 L459.91,328.85 L457.42,328.49 L455.04,328.00 L452.78,327.39 L450.65,326.66 L448.69,325.83 L446.90,324.89 L445.30,323.87 L443.90,322.77 L442.71,321.59 L441.74,320.36 L441.01,319.09 L440.50,317.78 L440.24,316.45 L440.22,315.10" stroke="#000" stroke-width="6.6"/><path d="M500.78,305.79 L500.76,307.64 L500.50,309.48 L499.99,311.30 L499.26,313.08 L498.29,314.83 L497.10,316.51 L495.70,318.13 L494.10,319.67 L492.31,321.12 L490.35,322.48 L488.22,323.72 L485.96,324.86 L483.58,325.87 L481.09,326.75 L478.52,327.50 L475.88,328.12 L473.20,328.60 L470.50,328.94 L467.80,329.12 L465.12,329.17 L462.48,329.08 L459.91,328.85 L457.42,328.49 L455.04,328.00 L452.78,327.39 L450.65,326.66 L448.69,325.83 L446.90,324.89 L445.30,323.87 L443.90,322.77 L442.71,321.59 L441.74,320.36 L441.01,319.09 L440.50,317.78 L440.24,316.45 L440.22,315.10" stroke="#fff" stroke-width="3.6"/>
<path d="M497.52,286.21 L497.54,288.04 L497.31,289.86 L496.86,291.67 L496.17,293.44 L495.26,295.16 L494.13,296.84 L492.79,298.44 L491.25,299.97 L489.53,301.41 L487.63,302.75 L485.57,303.99 L483.37,305.11 L481.05,306.12 L478.62,307.00 L476.11,307.75 L473.53,308.37 L470.90,308.85 L468.25,309.19 L465.59,309.43 L462.96,309.54 L460.36,309.51 L457.82,309.34 L455.36,309.04 L453.00,308.62 L450.76,308.08 L448.65,307.42 L446.70,306.66 L444.92,305.80 L443.32,304.85 L441.93,303.82 L440.74,302.73 L439.77,301.57 L439.02,300.38 L438.52,299.14 L438.25,297.89 L438.22,296.61" stroke="#000" stroke-width="6.6"/><path d="M497.52,286.21 L497.54,288.04 L497.31,289.86 L496.86,291.67 L496.17,293.44 L495.26,295.16 L494.13,296.84 L492.79,298.44 L491.25,299.97 L489.53,301.41 L487.63,302.75 L485.57,303.99 L483.37,305.11 L481.05,306.12 L478.62,307.00 L476.11,307.75 L473.53,308.37 L470.90,308.85 L468.25,309.19 L465.59,309.43 L462.96,309.54 L460.36,309.51 L457.82,309.34 L455.36,309.04 L453.00,308.62 L450.76,308.08 L448.65,307.42 L446.70,306.66 L444.92,305.80 L443.32,304.85 L441.93,303.82 L440.74,302.73 L439.77,301.57 L439.02,300.38 L438.52,299.14 L438.25,297.89 L438.22,296.61" stroke="#fff" stroke-width="3.6"/>
<path d="M492.62,266.47 L492.65,268.27 L492.46,270.08 L492.05,271.86 L491.42,273.61 L490.58,275.32 L489.53,276.97 L488.29,278.56 L486.86,280.08 L485.26,281.51 L483.49,282.85 L481.57,284.09 L479.51,285.21 L477.33,286.22 L475.06,287.11 L472.70,287.87 L470.27,288.50 L467.80,288.99 L465.30,289.35 L462.80,289.54 L460.31,289.60 L457.85,289.53 L455.45,289.32 L453.11,288.98 L450.88,288.52 L448.75,287.94 L446.75,287.24 L444.89,286.45 L443.19,285.55 L441.66,284.57 L440.32,283.51 L439.18,282.38 L438.25,281.20 L437.53,279.97 L437.03,278.70 L436.75,277.41 L436.72,276.13" stroke="#000" stroke-width="6.6"/><path d="M492.62,266.47 L492.65,268.27 L492.46,270.08 L492.05,271.86 L491.42,273.61 L490.58,275.32 L489.53,276.97 L488.29,278.56 L486.86,280.08 L485.26,281.51 L483.49,282.85 L481.57,284.09 L479.51,285.21 L477.33,286.22 L475.06,287.11 L472.70,287.87 L470.27,288.50 L467.80,288.99 L465.30,289.35 L462.80,289.54 L460.31,289.60 L457.85,289.53 L455.45,289.32 L453.11,288.98 L450.88,288.52 L448.75,287.94 L446.75,287.24 L444.89,286.45 L443.19,285.55 L441.66,284.57 L440.32,283.51 L439.18,282.38 L438.25,281.20 L437.53,279.97 L437.03,278.70 L436.75,277.41 L436.72,276.13" stroke="#fff" stroke-width="3.6"/>
<path d="M489.76,252.18 L489.73,253.61 L489.48,255.05 L489.03,256.46 L488.37,257.84 L487.52,259.19 L486.47,260.48 L485.25,261.71 L483.84,262.86 L482.28,263.94 L480.56,264.92 L478.70,265.81 L476.73,266.59 L474.64,267.26 L472.46,267.81 L470.21,268.24 L467.91,268.54 L465.56,268.71 L463.20,268.75 L460.83,268.95 L458.49,269.01 L456.18,268.95 L453.92,268.75 L451.73,268.44 L449.64,268.00 L447.65,267.45 L445.78,266.79 L444.04,266.03 L442.46,265.17 L441.04,264.23 L439.79,263.22 L438.73,262.14 L437.86,261.00 L437.18,259.82 L436.72,258.61 L436.46,257.38 L436.41,256.15" stroke="#000" stroke-width="6.6"/><path d="M489.76,252.18 L489.73,253.61 L489.48,255.05 L489.03,256.46 L488.37,257.84 L487.52,259.19 L486.47,260.48 L485.25,261.71 L483.84,262.86 L482.28,263.94 L480.56,264.92 L478.70,265.81 L476.73,266.59 L474.64,267.26 L472.46,267.81 L470.21,268.24 L467.91,268.54 L465.56,268.71 L463.20,268.75 L460.83,268.95 L458.49,269.01 L456.18,268.95 L453.92,268.75 L451.73,268.44 L449.64,268.00 L447.65,267.45 L445.78,266.79 L444.04,266.03 L442.46,265.17 L441.04,264.23 L439.79,263.22 L438.73,262.14 L437.86,261.00 L437.18,259.82 L436.72,258.61 L436.46,257.38 L436.41,256.15" stroke="#fff" stroke-width="3.6"/>
<path d="M475.64,238.43 L477.75,239.18 L479.73,240.03 L481.58,241.00 L483.27,242.06 L484.79,243.22 L486.12,244.46 L487.27,245.78 L488.20,247.16 L488.93,248.58 L489.43,250.04 L489.71,251.53 L489.77,253.02" stroke="#000" stroke-width="6.6"/><path d="M475.64,238.43 L477.75,239.18 L479.73,240.03 L481.58,241.00 L483.27,242.06 L484.79,243.22 L486.12,244.46 L487.27,245.78 L488.20,247.16 L488.93,248.58 L489.43,250.04 L489.71,251.53 L489.77,253.02" stroke="#fff" stroke-width="3.6"/>
</g>
<g id="p9">
<path d="M419.5,194.3 C422,186 440,180.5 455,180.8 C472,181 483,187 484.5,194 C486,201 484,205 479,209 C468,217 452,221.5 441,224 L439.7,221.8 L430.3,219.5 L428.9,209.6 C422,206 419,200 419.5,194.3 Z"/>
<path fill="none" d="M420,199 C425,205 438,207 449,206.6 C465,206 480,202 483,196"/>
<path fill="none" d="M421.7,204.2 C430,210 442,211 451,210.5 C468,209.5 480,205 484,199"/>
<ellipse cx="450.5" cy="193.4" rx="23.2" ry="9.9" stroke-width="1.4"/>
<ellipse cx="451.5" cy="195.2" rx="17.8" ry="7" stroke-width="1.4"/>
<path fill="none" stroke-width="1.4" d="M440,201.5 C446,198 456,198 464,200"/>
</g>

<g id="p11" transform="translate(670 420) scale(0.06)">
<path vector-effect="non-scaling-stroke" d="M200,410 L500,290 L580,430 L240,550 C190,560 170,520 175,470 C180,440 190,420 200,410 Z"/>
<ellipse vector-effect="non-scaling-stroke" cx="232" cy="482" rx="45" ry="68" transform="rotate(-20 232 482)"/>
<path vector-effect="non-scaling-stroke" fill="none" d="M280,380 C320,420 330,490 310,530 M350,350 C390,390 400,460 380,505 M420,325 C460,365 470,430 450,480 M490,300 C530,340 540,400 520,455"/>
<path vector-effect="non-scaling-stroke" d="M500,190 C530,170 580,165 620,190 L660,160 L740,210 L770,290 L750,370 L700,400 L680,460 C640,480 580,470 540,430 C500,390 480,300 500,190 Z"/>
<ellipse vector-effect="non-scaling-stroke" cx="560" cy="320" rx="55" ry="100" transform="rotate(-15 560 320)"/>
<path vector-effect="non-scaling-stroke" fill="none" d="M620,190 L690,250 L740,210 M690,250 L700,400 M640,210 C660,280 670,350 650,420"/>
</g>
<g id="p18" transform="translate(240 750) scale(0.11)">
<path vector-effect="non-scaling-stroke" d="M720,200 L860,110 C890,100 905,130 895,160 L770,270 Z"/>
<path vector-effect="non-scaling-stroke" fill="none" d="M770,170 C790,190 800,220 790,240 M800,150 C820,170 830,200 820,220 M830,135 C850,150 860,180 850,200 M860,120 C875,135 885,160 875,180"/>
<path vector-effect="non-scaling-stroke" d="M640,230 C650,190 690,170 730,185 C770,200 790,240 790,290 C785,330 760,345 720,340 C680,335 640,310 640,270 Z"/>
<path vector-effect="non-scaling-stroke" d="M660,230 L705,205 L755,230 L770,290 L735,320 L680,310 L655,270 Z"/>
<path vector-effect="non-scaling-stroke" fill="none" d="M660,250 L710,240 L755,255 M710,240 L720,320"/>
</g>
<g id="p17" transform="translate(380 680) scale(0.15)">
<path vector-effect="non-scaling-stroke" d="M110,100 C140,60 210,55 245,100 L300,180 L430,330 C455,360 460,380 470,420 L560,488 L490,535 C470,500 450,470 430,450 C400,420 360,410 340,390 L170,210 C130,190 95,140 110,100 Z"/>
<ellipse vector-effect="non-scaling-stroke" cx="178" cy="150" rx="45" ry="48"/>
<path vector-effect="non-scaling-stroke" fill="none" d="M265,255 L500,490"/>
</g>

<g id="p15">
<!-- nut 15 -->
<ellipse cx="644.2" cy="204" rx="13.8" ry="6.6"/>
<path fill="none" stroke-width="1.3" d="M631.5,203 C633,208 640,209.5 644,209.5 C650,209.5 656,207 657.5,203"/>
<path d="M633.5,199 L639,193.8 L648.5,193.5 L654.5,197.5 L653,205 L650,207.5 L640,207.2 L635,204.5 Z"/>
<path fill="none" stroke-width="1.3" d="M634,200 L639.5,201.5 L649.5,201.5 L654.5,199 M639.5,201.5 L640,207.2 M649.5,201.5 L650,207.5"/>
<ellipse cx="644.2" cy="197.6" rx="5" ry="2.4" stroke-width="1.3"/>
<!-- washer 13 -->
<ellipse cx="647.3" cy="233.3" rx="14.2" ry="8.2"/>
<ellipse cx="647.5" cy="231.7" rx="11" ry="5.2" stroke-width="1.4"/>
<ellipse cx="647.2" cy="230.8" rx="5.7" ry="2.7" stroke-width="1.4"/>
<!-- bushing 14 -->
<path d="M639.5,268 L640,272 C642,275 652,275 655,272 L655.5,268 Z"/>
<path d="M633.5,262 C633.5,257 635,254 637.5,251.5 C640,249.5 644,249 647,249 C651,249 655,249.5 657,251.5 C660,254 661.5,257 661.5,262 L661,266 C659,270 654,271.5 647,271.5 C640,271.5 635,270 634,266 Z"/>
<ellipse cx="647" cy="254" rx="6" ry="3" stroke-width="1.4"/>
<path fill="none" stroke-width="1.4" d="M635,257 C640,260.5 654,260.5 660,257 M633.7,263 C640,267 654,267 661.3,263"/>
</g>
<g id="p7">
<path d="M586,299 C586,292 592,289.5 599,289.5 C606,289.5 614,292 614,299 L615.5,310 C615.5,316 612,319 612,319 C608,322.5 603,323 599,323 C594,323 590,322 588,319 C588,319 584.5,315 584.5,310 Z"/>
<ellipse cx="599.5" cy="295" rx="5.5" ry="3" stroke-width="1.3"/>
<path fill="none" stroke-width="1.3" d="M588.5,297.5 C594,302 606,302 611.5,297.5 M585.3,303.5 C592,308 608,308 614.7,303.5 M585,309 C592,313.5 608,313.5 615.2,309 M586,313.5 C593,317 607,317 614,313.5 M587,316.5 C593,320 607,320 613,316.5"/>
</g>
<g id="p10">
<path d="M641,452 L638.7,406.5 L662,406 L661,450 Z"/>
<path d="M635,335 C635,330 636,326 638,325 L658,325 C660,326 661.3,330 661.3,335 L663.5,402 C660,409 640,410 636.5,402 Z"/>
<path fill="none" d="M636.5,402 C640,407.5 658,408 663.5,401"/>
<path d="M634.5,312 C634,305 640,301.5 648,301.5 C656,301.5 661.5,305 661.5,312 L660,325 L657,326 L654,329 L644,329 L639,325.5 L636,324 Z"/>
<path fill="none" stroke-width="1.3" d="M635,316 C640,320.5 656,320.5 661,316 M636,320 C641,324 655,324 660,320 M639,325.5 L644,323.5 L654,323.5 L658,325.5 M644,323.5 L644,329 M654,323.5 L654,329"/>
<ellipse cx="648" cy="308" rx="10.5" ry="4.5" stroke-width="1.3"/>
<ellipse cx="648" cy="307" rx="7" ry="3" stroke-width="1.3"/>
<path d="M643.8,310 L643.8,298 L644.8,297.5 L644.8,286 C644.8,283 651,283 651,286 L651,297.5 L651.8,298 L651.8,310 C650,312 646,312 643.8,310 Z"/>
<path fill="none" stroke-width="1.3" d="M644.8,297.5 C646,299 650,299 651,297.5"/>
<!-- eye -->
<path d="M641,452 C648,454 656,452 661,449 C665,452 666,458 664,463 C661,468 652,471 645,471 C640,470 636,466 636,460 C636,456 638,453 641,452 Z"/>
<ellipse cx="642.5" cy="461" rx="6.3" ry="8" transform="rotate(-15 642.5 461)"/>
<circle cx="641.5" cy="461.5" r="3.8" stroke-width="1.3"/>
<circle cx="641" cy="462" r="1.8" stroke-width="1.2"/>
</g>
<g id="p12">
<path d="M609.2,442 L618.8,445.6 L620.6,466 C622.5,470 622,476 618.5,477.5 C614,479 609,477 607.5,473 C606.5,470 607,467 608,465 Z"/>
<circle cx="614.3" cy="471.3" r="6" stroke-width="1.4"/>
<circle cx="614" cy="471.3" r="3" stroke-width="1.3"/>
</g>

<g id="p16" fill="#3c60cf" stroke="#0d1640" stroke-width="2">
<path d="M56.2,602.6 C60,605 62,607 63.4,609 L66.6,613.8 L73,615.4 L89,628.2 L135.4,650.6 L185,671.4 L260,703.2 L284,714 L317.6,728.4 L346.4,735.6 L350,752 L338,747.6 L296,730.8 L260,717 L185,684.2 L84.2,641 L77.8,637.8 L61.8,621 L53,617.8 Z"/>
<path fill="none" stroke-width="1.5" d="M63.4,615.4 L69.8,626.6 L79.4,634.6 L129,655.4 C133,655 136,653.5 135.4,650.6"/>
<path fill="none" stroke-width="1.5" d="M338,740.4 C342,737.5 347,737 350,738"/>
<circle cx="46.6" cy="607.4" r="9.8"/>
<circle cx="45.6" cy="609.4" r="6.2" stroke-width="1.5"/>
<circle cx="45.6" cy="609.4" r="3.4" stroke-width="1.2"/>
<circle cx="359.6" cy="745.2" r="12.2"/>
<circle cx="359.6" cy="745.5" r="8.8" stroke-width="1.5"/>
<circle cx="359.8" cy="745.8" r="5" stroke-width="1.4"/>
</g>

</g>
<g font-family="Liberation Sans" font-size="37.5" fill="#000" stroke="#000" stroke-width="0.45">
<text x="373" y="214">9</text>
<path transform="translate(685.6 214) scale(0.01831 -0.01831)" d="M763 0L583 0L583 1147Q518 1085 413 1023Q308 961 224 930L224 1104Q375 1175 488 1276Q601 1377 648 1472L763 1472Z"/>
<text x="706.46" y="214">5</text>
<path transform="translate(566 247) scale(0.01831 -0.01831)" d="M763 0L583 0L583 1147Q518 1085 413 1023Q308 961 224 930L224 1104Q375 1175 488 1276Q601 1377 648 1472L763 1472Z"/>
<text x="586.86" y="247">3</text>
<path transform="translate(685 275) scale(0.01831 -0.01831)" d="M763 0L583 0L583 1147Q518 1085 413 1023Q308 961 224 930L224 1104Q375 1175 488 1276Q601 1377 648 1472L763 1472Z"/>
<text x="705.86" y="275">4</text>
<text x="387.5" y="315.5">8</text>
<text x="590" y="385">7</text>
<path transform="translate(688.4 374) scale(0.01831 -0.01831)" d="M763 0L583 0L583 1147Q518 1085 413 1023Q308 961 224 930L224 1104Q375 1175 488 1276Q601 1377 648 1472L763 1472Z"/>
<text x="709.26" y="374">0</text>
<path transform="translate(292.8 422.4) scale(0.01831 -0.01831)" d="M763 0L583 0L583 1147Q518 1085 413 1023Q308 961 224 930L224 1104Q375 1175 488 1276Q601 1377 648 1472L763 1472Z"/>
<path transform="translate(744.4 450.2) scale(0.01831 -0.01831)" d="M763 0L583 0L583 1147Q518 1085 413 1023Q308 961 224 930L224 1104Q375 1175 488 1276Q601 1377 648 1472L763 1472Z"/>
<path transform="translate(765.26 450.2) scale(0.01831 -0.01831)" d="M763 0L583 0L583 1147Q518 1085 413 1023Q308 961 224 930L224 1104Q375 1175 488 1276Q601 1377 648 1472L763 1472Z"/>
<text x="871.7" y="417.7">3</text>
<text x="795" y="492">2</text>
<path transform="translate(599.8 539.8) scale(0.01831 -0.01831)" d="M763 0L583 0L583 1147Q518 1085 413 1023Q308 961 224 930L224 1104Q375 1175 488 1276Q601 1377 648 1472L763 1472Z"/>
<text x="620.66" y="539.8">2</text>
<text x="935" y="657.7">6</text>
<text x="424.6" y="662.6">4</text>
<text x="586" y="719">6</text>
<text x="822" y="696.8">5</text>
<path transform="translate(134 740.8) scale(0.01831 -0.01831)" d="M763 0L583 0L583 1147Q518 1085 413 1023Q308 961 224 930L224 1104Q375 1175 488 1276Q601 1377 648 1472L763 1472Z"/>
<text x="154.86" y="740.8">6</text>
<path transform="translate(244.8 796.2) scale(0.01831 -0.01831)" d="M763 0L583 0L583 1147Q518 1085 413 1023Q308 961 224 930L224 1104Q375 1175 488 1276Q601 1377 648 1472L763 1472Z"/>
<text x="265.66" y="796.2">8</text>
<path transform="translate(436 817.2) scale(0.01831 -0.01831)" d="M763 0L583 0L583 1147Q518 1085 413 1023Q308 961 224 930L224 1104Q375 1175 488 1276Q601 1377 648 1472L763 1472Z"/>
<text x="456.86" y="817.2">7</text>
<line x1="393" y1="199.5" x2="412.5" y2="199.5" stroke="#000" stroke-width="1.6"/>
<polygon points="420,199.5 411.5,204.3 411.5,194.7"/>
<line x1="686" y1="203.6" x2="665.5" y2="203.6" stroke="#000" stroke-width="1.6"/>
<polygon points="658,203.6 666.5,198.8 666.5,208.4"/>
<line x1="606" y1="232.4" x2="624.1" y2="232.4" stroke="#000" stroke-width="1.6"/>
<polygon points="631.6,232.4 623.1,237.2 623.1,227.6"/>
<line x1="688" y1="262.6" x2="668.5" y2="262.6" stroke="#000" stroke-width="1.6"/>
<polygon points="661,262.6 669.5,257.8 669.5,267.4"/>
<line x1="406.5" y1="301" x2="426" y2="301" stroke="#000" stroke-width="1.6"/>
<polygon points="433.5,301 425,305.8 425,296.2"/>
<line x1="598" y1="352" x2="598" y2="332.5" stroke="#000" stroke-width="1.6"/>
<polygon points="598,325 602.8,333.5 593.2,333.5"/>
<line x1="691" y1="362" x2="670.5" y2="362" stroke="#000" stroke-width="1.6"/>
<polygon points="663,362 671.5,357.2 671.5,366.8"/>
<line x1="302.4" y1="426" x2="302.4" y2="447.3" stroke="#000" stroke-width="1.6"/>
<polygon points="302.4,454.8 297.6,446.3 307.2,446.3"/>
<line x1="744.5" y1="437.7" x2="723.5" y2="437.7" stroke="#000" stroke-width="1.6"/>
<polygon points="716,437.7 724.5,432.9 724.5,442.5"/>
<line x1="881.8" y1="420" x2="881.8" y2="440.5" stroke="#000" stroke-width="1.6"/>
<polygon points="881.8,448 877,439.5 886.6,439.5"/>
<line x1="795" y1="477.5" x2="774.1" y2="477.5" stroke="#000" stroke-width="1.6"/>
<polygon points="766.6,477.5 775.1,472.7 775.1,482.3"/>
<line x1="617.8" y1="508.6" x2="617.8" y2="487.9" stroke="#000" stroke-width="1.6"/>
<polygon points="617.8,480.4 622.6,488.9 613,488.9"/>
<line x1="944.2" y1="625.8" x2="944.2" y2="605.4" stroke="#000" stroke-width="1.6"/>
<polygon points="944.2,597.9 949,606.4 939.4,606.4"/>
<line x1="448.2" y1="647.4" x2="467.9" y2="647.4" stroke="#000" stroke-width="1.6"/>
<polygon points="475.4,647.4 466.9,652.2 466.9,642.6"/>
<line x1="595.4" y1="686.5" x2="595.4" y2="666" stroke="#000" stroke-width="1.6"/>
<polygon points="595.4,658.5 600.2,667 590.6,667"/>
<line x1="824" y1="668.8" x2="809.65" y2="654.16" stroke="#000" stroke-width="1.6"/>
<polygon points="804.4,648.8 813.78,651.51 806.92,658.23"/>
<line x1="166.4" y1="708.8" x2="178.8" y2="691.67" stroke="#000" stroke-width="1.6"/>
<polygon points="183.2,685.6 182.1,695.3 174.33,689.67"/>
<line x1="283.5" y1="782.1" x2="301.3" y2="782.1" stroke="#000" stroke-width="1.6"/>
<polygon points="308.8,782.1 300.3,786.9 300.3,777.3"/>
<line x1="453.5" y1="788" x2="453.5" y2="767.7" stroke="#000" stroke-width="1.6"/>
<polygon points="453.5,760.2 458.3,768.7 448.7,768.7"/>
</g>
</svg></body></html>
